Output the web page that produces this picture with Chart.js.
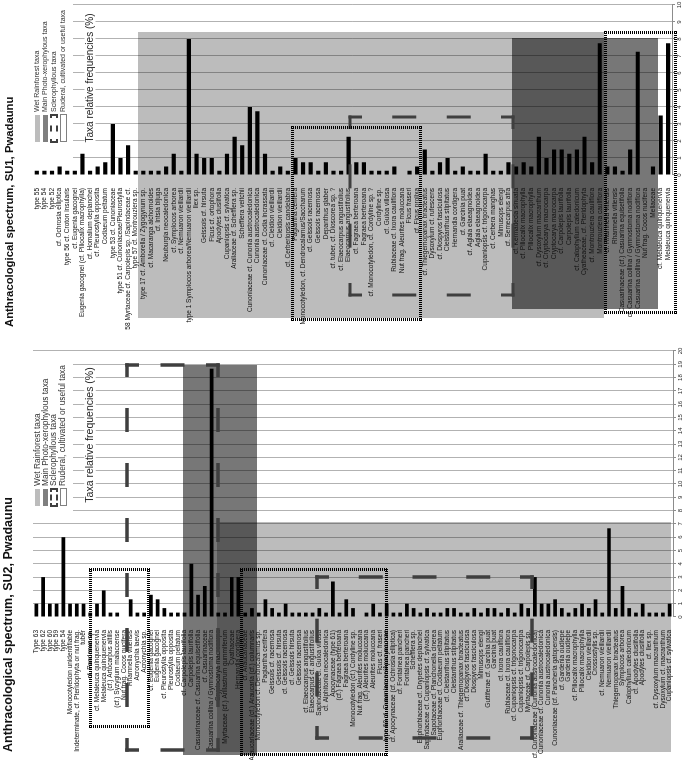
<!DOCTYPE html>
<html>
<head>
<meta charset="utf-8">
<script src="https://cdn.jsdelivr.net/npm/chart.js@4.4.1/dist/chart.umd.min.js"></script>
<style>
  html, body { margin: 0; padding: 0; background: #fff; }
  #page { position: relative; width: 685px; height: 760px; overflow: hidden; }
  /* each panel is drawn upright (horizontal bars) and turned a quarter turn left */
  .panel { position: absolute; left: 0; top: 0; transform-origin: 0 0; }
  #su1 { transform: translate(0, 330px) rotate(-90deg); }
  #su2 { transform: translate(0, 760px) rotate(-90deg); }
</style>
</head>
<body>
<div id="page">
  <canvas id="su1" class="panel" width="330" height="685"></canvas>
  <canvas id="su2" class="panel" width="430" height="685"></canvas>
</div>
<script>
const FONT = 'Liberation Sans, Arial, Helvetica, sans-serif';

const legendLabels = ['Wet Rainforest taxa', 'Main Photo-xerophylous taxa', 'Sclerophyllous taxa', 'Ruderal, cultivated or useful taxa'];
const axisTitle = 'Taxa relative frequencies (%)';

// SU1
const su1Title = 'Anthracological spectrum, SU1, Pwadaunu';
const su1AxisMax = 10;
const su1Taxa = [
  'type 55', 'type 54', 'type 52', 'cf. Ochrosia elliptica', 'type 56 cf. Croton insularis',
  'cf. Eugenia gacognei', 'Eugenia gacognei (cf. Piliocalix macrophylla)', 'cf. Homalium deplanchei',
  'cf. Pleurostylia opposita', 'Codiaeum peltatum', 'type 53 cf. Cunoniaceae',
  'type 51 cf. Cunoniaceae/Pleurostylia', 't. 58 Myrtaceae cf. Carpolepis sp. /Sapindaceae cf.',
  'type 57 cf. Montrouziera sp.', 'type 17 cf. Amborella / Zygogynum sp.', 'cf. Macaranga alchornoides',
  'cf. Intsia bijuga', 'Neuburgia neocaledonica', 'cf. Symplocos arborea', 'cf. Nemuaron vieillardii',
  'type 1 Symplocos arborea/Nemuaron vieillardii', 'Ilex sp.', 'Geissois cf. hirsuta', 'Ficus cf. ortophora',
  'Apodytes clusiifolia', 'Cupaniopsis cf. sylvatica', 'Araliaceae cf. Schefflera sp.', 'Schefflera veitchii',
  'Cunoniaceae cf. Cunonia austrocaledonica', 'Cunonia austrocaledonica', 'Cunoniaceae cf. Codia incrassata',
  'cf. Cleidion vieillardii', 'Cleidion vieillardii', 'cf. Cerberiopsis candelabra', 'Pagiantha cerifera',
  'Monocotyledon, cf. Dendrocalamus/Saccharum', 'cf. Geissois racemosa', 'Geissois racemosa',
  'Depanthus glaber', 'cf. tuber, cf. Dioscorea sp. ?', 'cf. Elaeocarpus angustifolius',
  'Elaeocarpus angustifolius', 'cf. Fagraea berteroana', 'Fagraea berteroana',
  'cf. Monocotyledon, cf. Cordyline sp. ?', 'Cordyline sp.', 'cf. Guioa villosa',
  'Rubiaceae cf. Ixora cauliflora', 'Nut frag. Aleurites moluccana', 'Ficus fraseri', 'cf. Ficus prolixa',
  'cf. Thiegemopanax bracteatus', 'Dysoxylum cf. rufescens', 'cf. Diospyros fasciculosa',
  'Cleistanthus stipitatus', 'Hernandia cordigera', 'cf. Garcinia puat', 'cf. Aglaia elaeagnoidea',
  'Aglaia elaeagnoidea', 'Cupaniopsis cf. trigonocarpa', 'cf. Cerbera manghas', 'Mimusops elengi',
  'cf. Semecarpus atra', 'cf. Kermadecia sinuata', 'cf. Piliocalix macrophylla', 'Piliocalix macrophylla',
  'cf. Dysoxylum macranthum', 'cf. Cryptocarya macrocarpa', 'Cryptocarya macrocarpa',
  'cf. Carpolepis laurifolia', 'Carpolepis laurifolia', 'cf. Calophyllum caledonicum',
  'Cyatheaceae, cf. Pteridophyta', 'cf. Montrouziera cauliflora', 'Montrouziera cauliflora',
  'cf. Rhamnella vitiensis', 'Rhamnella vitiensis', 'Casuarinaceae (cf.) Casuarina equisetifolia',
  'cf. Casuarina collina / Gymnostoma nodiflora', 'Casuarina collina / Gymnostoma nodiflora',
  'Nut frag. Cocos nucifera', 'Meliaceae', 'cf. Melaleuca quinquenervia', 'Melaleuca quinquenervia'
];
const su1Freq = [
  0.25, 0.25, 0.25, 0.5, 0.25, 0.25, 1.25, 0.25, 0.5, 0.75, 3, 1, 1.75, 0.25,
  0.25, 0.25, 0.25, 0.5, 1.25, 0.25, 8, 1.25, 1, 1, 0.25, 1.25, 2.25, 1.75, 4, 3.75, 1.25, 0.25,
  0.5, 0.25, 1, 0.75, 0.75, 0.25, 0.75, 0.25, 0.25, 2.25, 0.75, 0.75, 0.25, 0.25, 0.25, 0.5, 0, 0.25, 0.5,
  1.5, 0.25, 0.75, 1, 0.25, 0.5, 0.25, 0.25, 1.25, 0.25, 0.25, 0.75, 0.5, 0.75, 0.5, 2.25,
  1, 1.5, 1.5, 1.25, 1.5, 2.25, 0.75, 7.75, 0.5, 0.5, 0.25, 1.5, 7.25, 0, 0.5, 3.5, 7.75
];

// SU2
const su2Title = 'Anthracological spectrum, SU2, Pwadaunu';
const su2AxisMax = 20;
const su2Taxa = [
  'Type 63', 'type 62', 'type 60', 'type 59', 'type 54', 'Monocotyledon unidentifiable',
  'Indeterminate, cf. Pteridophyta or nut frag.', 'tuber', 'cf. Pandanus sp.', 'cf. Melaleuca quinquenervia',
  'Melaleuca quinquenervia', '(cf.) Artocarpus altilis', '(cf.) Syzygium malaccense', 'Nut frag. Cocos nucifera',
  'Rhamnella vitiensis', 'Acronychia laevis', 'Acronychia sp.', 'cf. Eugenia gacognei', 'Eugenia gacognei',
  'cf. Pleurostylia opposita', 'Pleurostylia opposita', 'Codiaeum peltatum', 'cf. Carpolepis laurifolia',
  'Carpolepis laurifolia', 'Casuarinaceae cf. Casuarina equisetifolia', 'cf. Casuarinaceae',
  'Casuarina collina / Gymnostoma nodiflora', 'Cryptocarya macrocarpa', 'Myrtaceae (cf.) Arillastrum gummiferum',
  'Cyathaceae', 'Hernandia cordigera', 'cf. Araucariaceae', 'Araucariaceae (cf.) Araucaria (cf.) columnaris',
  'Monocotyledon cf. Dendrocalamus sp.', 'Pagiantha cerifera', 'Geissois cf. racemosa', 'Geissois cf. hirsuta',
  'cf. Geissois racemosa', 'cf. Geissois hirsuta', 'Geissois racemosa', 'cf. Elaeocarpus angustifolius',
  'Elaeocarpus cf. angustifolius', 'Sapindaceae cf. Guioa villosa', 'cf. Alphitonia neocaledonica',
  'Apocynaceae (type 61)', '(cf.) Fagraea berteroana', 'Fagraea berteroana', 'Monocotyledon (cf.) Cordyline sp.',
  'Nut frag. Aleurites moluccana', '(cf.) Aleurites moluccana', 'Aleurites moluccana', 'Ficus cf. fraseri',
  'type 60 cf. Cunoniaceae/Apocynaceae', 'cf. Apocynaceae (cf. Ochrosia elliptica)', 'cf. Fontainea pancheri',
  'Fontainea pancheri', 'Schefflera sp.', 'Euphorbiaceae cf. Drypetes deplanchei',
  'Sapindaceae cf. Cupaniopsis cf. sylvatica', 'Sapotaceae cf. Planchonella cinerea',
  'Euphorbiaceae cf. Codiaeum peltatum', 'cf. Cleistanthus stipitatus', 'Cleistanthus stipitatus',
  'Araliaceae cf. Thiegemopanax bracteatus', 'cf. Diospyros fasciculosa', 'Diospyros fasciculosa',
  'Mimusops elengi', 'Guttiferae cf. Garcinia puat', 'Garcinia puat', 'cf. Ixora cauliflora',
  'Rubiaceae cf. Ixora cauliflora', 'cf. Cupaniopsis cf. trigonocarpa', 'Cupaniopsis cf. trigonocarpa',
  'Myrtaceae cf. Carpolepis sp.', 'cf. Cunoniaceae (Cunonia austrocaledonica)',
  'Cunoniaceae cf. Cunonia austrocaledonica', 'Cunonia austrocaledonica', 'Cunoniaceae (cf. Pancheria gatopensis)',
  'cf. Gardenia oudiepe', 'Gardenia oudiepe', 'cf. Piliocalix macrophylla', 'Piliocalix macrophylla',
  'Cleidion vieillardii', 'Crossostylis sp.', 'cf. Nemuaron vieillardii', 'Nemuaron vieillardii',
  'Thiegemopanax bracteatus', 'Symplocos arborea', 'Calophyllum caledonicum', 'cf. Apodytes clusiifolia',
  'Apodytes clusiifolia', 'cf. Ilex sp.', 'cf. Dysoxylum macranthum', 'Dysoxylum cf. macranthum',
  'Cupaniopsis cf. sylvatica'
];
const su2Freq = [
  1, 3, 1, 1, 6, 1, 1, 1, 0.33, 1, 2, 0.33, 0.33, 0, 1.33, 0.33,
  0.33, 1.67, 1.33, 0.67, 0.33, 0.33, 0.33, 4, 1.67, 2.33, 18.67, 0.33, 0.33, 3, 3, 0.33, 0.67, 0.33, 1.33, 0.67,
  0.33, 1, 0.33, 0.33, 0.33, 0.33, 0.67, 0.33, 2.67, 0.33, 1.33, 0.67, 0, 0.33, 1, 0.33, 1, 0.33, 0.33, 1,
  0.67, 0.33, 0.67, 0.33, 0.33, 0.67, 0.67, 0.33, 0.33, 0.67, 0.33, 0.67, 0.67, 0.33, 0.67, 0.33, 1, 0.67, 3, 1,
  1, 1.33, 0.67, 0.33, 0.67, 1, 0.67, 1.33, 0.33, 6.67, 0.67, 2.33, 0.67, 0.33, 1, 0.33, 0.33, 0.33, 1
];

// group frames: from/to in category index units, low/high in axis units
const su1Zones = [
  { kind: 'light', from: 13.3, to: 74.5, low: -8.4, high: 8.4 },
  { kind: 'dark', from: 62.5, to: 81.6, low: -7.9, high: 8.05 },
  { kind: 'dashed', from: 41.2, to: 62.6, low: -7.06, high: 3.41 },
  { kind: 'dotted', from: 33.55, to: 50.4, low: -8.53, high: 2.76 },
  { kind: 'dotted', from: 74.7, to: 83.9, low: -8.12, high: 8.35 }
];
const su2Zones = [
  { kind: 'dark', from: 21.78, to: 32.74, low: -10.38, high: 18.95 },
  { kind: 'light', from: 26.8, to: 94.2, low: -10.15, high: 7.14 },
  { kind: 'dashed', from: 13.49, to: 26.97, low: -10.0, high: 18.95 },
  { kind: 'dashed', from: 41.63, to: 73.6, low: -9.1, high: 3.0 },
  { kind: 'dotted', from: 8.0, to: 16.6, low: -8.27, high: 3.53 },
  { kind: 'dotted', from: 30.37, to: 51.85, low: -10.38, high: 3.53 }
];

const LIGHT = '#bcbcbc';
const DARK = '#777777';
const DASH_COLOR = '#3f3f3f';

function zoneBox(chart, z) {
  const xs = chart.scales.x, ys = chart.scales.y;
  const a = xs.getPixelForValue(z.low), b = xs.getPixelForValue(z.high);
  const c = ys.getPixelForValue(z.from), d = ys.getPixelForValue(z.to);
  return { x0: Math.round(Math.min(a, b)), x1: Math.round(Math.max(a, b)),
           y0: Math.round(Math.min(c, d)), y1: Math.round(Math.max(c, d)) };
}

// dashes spread so that every side starts and ends on a half dash (corners look like an L)
function dashedSide(ctx, x0, y0, x1, y1, dash, gap, lw) {
  const len = Math.hypot(x1 - x0, y1 - y0);
  const n = Math.max(1, Math.round(len / (dash + gap)));
  const step = len / n;
  const dx = (x1 - x0) / len, dy = (y1 - y0) / len;
  ctx.beginPath();
  for (let k = 0; k <= n; k++) {
    const c = k * step;
    const a = k === 0 ? -lw / 2 : c - dash / 2;
    const b = k === n ? len + lw / 2 : c + dash / 2;
    ctx.moveTo(x0 + dx * a, y0 + dy * a);
    ctx.lineTo(x0 + dx * b, y0 + dy * b);
  }
  ctx.stroke();
}

function dashedRect(ctx, r, dash, gap, lw) {
  ctx.save();
  ctx.strokeStyle = DASH_COLOR;
  ctx.lineWidth = lw;
  ctx.lineCap = 'butt';
  dashedSide(ctx, r.x0, r.y0, r.x1, r.y0, dash, gap, lw);
  dashedSide(ctx, r.x0, r.y1, r.x1, r.y1, dash, gap, lw);
  dashedSide(ctx, r.x0, r.y0, r.x0, r.y1, dash, gap, lw);
  dashedSide(ctx, r.x1, r.y0, r.x1, r.y1, dash, gap, lw);
  ctx.restore();
}

// 1px on / 1px off dots, each side laid on whole pixels so the dots stay crisp
function dottedRect(ctx, r, lw) {
  ctx.save();
  ctx.strokeStyle = '#000';
  ctx.lineWidth = lw;
  ctx.setLineDash([1, 1]);
  const h = lw % 2 ? 0.5 : 0;
  const sides = [
    [r.x0 - 1, r.y0 + h, r.x1 + 2, r.y0 + h],
    [r.x0 - 1, r.y1 + h, r.x1 + 2, r.y1 + h],
    [r.x0 + h, r.y0 - 1, r.x0 + h, r.y1 + 2],
    [r.x1 + h, r.y0 - 1, r.x1 + h, r.y1 + 2]
  ];
  sides.forEach(s => {
    ctx.beginPath();
    ctx.moveTo(s[0], s[1]);
    ctx.lineTo(s[2], s[3]);
    ctx.stroke();
  });
  ctx.restore();
}

function makeDecor(cfg) {
  return {
    id: 'panelDecor',
    beforeDraw(chart) {
      const ctx = chart.ctx;
      ctx.save();
      ctx.fillStyle = '#fff';
      ctx.fillRect(0, 0, chart.width, chart.height);
      cfg.zones.filter(z => z.kind === 'light').forEach(z => {
        const r = zoneBox(chart, z);
        ctx.fillStyle = LIGHT;
        ctx.fillRect(r.x0, r.y0, r.x1 - r.x0, r.y1 - r.y0);
      });
      ctx.globalCompositeOperation = 'multiply';
      cfg.zones.filter(z => z.kind === 'dark').forEach(z => {
        const r = zoneBox(chart, z);
        ctx.fillStyle = DARK;
        ctx.fillRect(r.x0, r.y0, r.x1 - r.x0, r.y1 - r.y0);
      });
      ctx.restore();
    },
    afterDraw(chart) {
      const ctx = chart.ctx;
      cfg.zones.forEach(z => {
        const r = zoneBox(chart, z);
        if (z.kind === 'dashed') dashedRect(ctx, r, 24, 29, cfg.dashWidth);
        if (z.kind === 'dotted') dottedRect(ctx, r, 3);
      });

      // legend on a white card
      const L = cfg.legend;
      ctx.save();
      ctx.fillStyle = '#fff';
      ctx.fillRect(L.box[0], L.box[1], L.box[2], L.box[3]);
      const sw = L.swatch;
      ctx.fillStyle = LIGHT;
      ctx.fillRect(sw[0], 35, sw[1] - sw[0], 5);
      ctx.fillStyle = '#7f7f7f';
      ctx.fillRect(sw[0], 43, sw[1] - sw[0], 5);
      dashedRect(ctx, { x0: sw[0], y0: 51, x1: sw[1], y1: 57 }, 6, 5, 2);
      ctx.strokeStyle = '#000';
      ctx.lineWidth = 1;
      ctx.setLineDash([1, 1]);
      ctx.strokeRect(sw[0] + 0.5, 60.5, sw[1] - sw[0], 6);
      ctx.setLineDash([]);
      ctx.fillStyle = '#333';
      ctx.font = `${L.size}px ${FONT}`;
      ctx.textBaseline = 'middle';
      ctx.textAlign = 'left';
      legendLabels.forEach((t, i) => ctx.fillText(t, L.textX, L.rows[i]));

      // axis title on a white strip
      const A = cfg.axisTitle;
      ctx.font = `${A.size}px ${FONT}`;
      const w = ctx.measureText(axisTitle).width;
      ctx.fillStyle = '#fff';
      ctx.fillRect(A.x - w / 2 - 2, A.y - A.size * 0.55, w + 4, A.size * 1.1);
      ctx.fillStyle = '#222';
      ctx.textAlign = 'center';
      ctx.fillText(axisTitle, A.x, A.y);

      // panel title
      ctx.font = `bold ${cfg.title.size}px ${FONT}`;
      ctx.fillStyle = '#111';
      ctx.textAlign = 'left';
      ctx.fillText(cfg.title.text, cfg.title.x, cfg.title.y);
      ctx.restore();
    }
  };
}

function makePanel(id, taxa, freq, axisMax, cfg) {
  return new Chart(document.getElementById(id), {
    type: 'bar',
    data: {
      labels: taxa,
      datasets: [{ data: freq, backgroundColor: '#000', borderWidth: 0, barPercentage: 0.55, categoryPercentage: 1 }]
    },
    options: {
      indexAxis: 'y',
      responsive: false,
      animation: false,
      devicePixelRatio: 1,
      layout: { padding: { left: 0, right: cfg.padRight, top: 33, bottom: 0 } },
      plugins: { legend: { display: false }, tooltip: { enabled: false } },
      scales: {
        x: {
          type: 'linear', position: 'bottom', min: 0, max: axisMax,
          ticks: { stepSize: 1, maxRotation: 0, padding: 1, color: '#333', font: { family: FONT, size: 6 } },
          grid: {
            color: c => (c.tick && c.tick.value === 0) ? 'rgba(0,0,0,0)' : 'rgba(0,0,0,0.3)',
            tickColor: '#8c8c8c', tickLength: 3
          },
          border: { display: true, color: '#8c8c8c' },
          afterFit: s => { s.height = cfg.valueAxisSize; }
        },
        y: {
          type: 'category', position: 'left',
          ticks: { autoSkip: false, padding: 5, color: '#111', font: { family: FONT, size: 6.5 } },
          grid: { display: false },
          border: { display: false },
          afterFit: s => { s.width = cfg.labelAxisSize; }
        }
      }
    },
    plugins: [makeDecor(cfg)]
  });
}

makePanel('su1', su1Taxa, su1Freq, su1AxisMax, {
  padRight: 5, valueAxisSize: 13, labelAxisSize: 155, dashWidth: 3,
  zones: su1Zones,
  title: { text: su1Title, size: 11.3, x: 3, y: 10 },
  legend: { box: [167, 30, 163, 43], swatch: [188, 215], textX: 218, size: 7, rows: [37.5, 45.5, 54, 63] },
  axisTitle: { x: 252, y: 90, size: 10 }
});

makePanel('su2', su2Taxa, su2Freq, su2AxisMax, {
  padRight: 21, valueAxisSize: 12, labelAxisSize: 143, dashWidth: 3.5,
  zones: su2Zones,
  title: { text: su2Title, size: 12.5, x: 8, y: 9 },
  legend: { box: [248, 33, 150, 40], swatch: [254, 271], textX: 274, size: 8.3, rows: [37.5, 45.5, 54, 63] },
  axisTitle: { x: 325, y: 90, size: 10.5 }
});
</script>
</body>
</html>
